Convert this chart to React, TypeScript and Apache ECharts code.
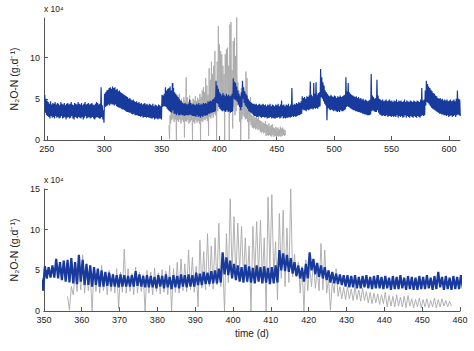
import React, { useEffect, useRef } from "react";
import * as echarts from "echarts";

// values in units of 1e4 g/d
const blueStartDay = 248;
// daily upper values of the blue (model) series, days 248..609
const blueHi = [
  5.5, 5.0, 4.8, 4.6, 4.4, 4.7, 4.3, 4.5, 4.4, 4.6,
  4.3, 4.5, 4.4, 4.2, 4.6, 4.4, 4.3, 4.5, 4.2, 4.4,
  4.5, 4.3, 4.4, 4.6, 4.3, 4.2, 4.5, 4.4, 4.3, 4.6,
  4.4, 4.3, 4.5, 4.2, 4.4, 4.6, 4.3, 4.4, 4.5, 4.3,
  4.4, 4.5, 4.3, 4.2, 4.4, 4.6, 4.5, 4.3, 4.4, 6.4,
  4.2, 3.6, 5.6, 5.8, 6.0, 6.1, 6.3, 6.4, 6.2, 6.5,
  6.3, 6.4, 6.1, 6.2, 5.9, 6.0, 5.8, 5.7, 5.6, 5.5,
  5.4, 5.3, 5.2, 5.0, 5.1, 4.9, 4.8, 4.9, 4.7, 4.6,
  4.7, 4.5, 4.6, 4.4, 4.5, 4.3, 4.4, 4.5, 4.3, 4.4,
  4.2, 4.4, 4.3, 4.2, 4.4, 4.1, 4.3, 4.2, 4.1, 4.3,
  4.2, 4.1, 5.5, 5.4, 5.6, 6.4, 6.0, 6.2, 6.3, 6.5,
  6.0, 6.9, 6.3, 5.8, 5.6, 5.4, 5.2, 5.0, 4.8, 4.7,
  4.5, 4.4, 4.5, 4.4, 4.3, 4.4, 4.9, 4.5, 4.3, 4.4,
  4.3, 4.2, 4.4, 4.3, 4.5, 4.2, 4.4, 4.3, 4.5, 4.4,
  4.5, 4.4, 4.7, 4.6, 4.8, 4.7, 4.9, 5.0, 5.2, 7.2,
  6.6, 6.2, 5.8, 5.6, 5.4, 5.7, 5.5, 5.3, 5.6, 5.4,
  5.5, 5.3, 5.4, 5.6, 7.5, 7.1, 6.9, 6.5, 6.0, 5.6,
  5.3, 5.8, 7.2, 6.4, 5.9, 5.6, 5.4, 5.0, 4.8, 4.6,
  4.5, 4.4, 4.4, 4.3, 4.4, 4.2, 4.3, 4.4, 4.2, 4.3,
  4.4, 4.2, 4.3, 4.1, 4.3, 4.2, 4.4, 4.1, 4.3, 4.2,
  4.1, 4.3, 4.2, 4.4, 4.1, 4.3, 4.8, 4.2, 4.3, 4.1,
  4.3, 4.2, 4.4, 4.1, 4.3, 6.3, 4.2, 4.4, 4.3, 4.5,
  4.4, 4.6, 4.5, 4.7, 5.3, 5.1, 5.2, 5.0, 5.3, 5.2,
  5.4, 7.1, 5.5, 5.3, 6.9, 5.6, 7.0, 5.5, 5.7, 5.8,
  8.6, 7.6, 7.0, 6.6, 6.0, 5.8, 5.6, 5.4, 5.3, 5.5,
  5.3, 5.2, 5.4, 5.3, 5.1, 5.3, 5.2, 5.4, 5.2, 5.3,
  5.4, 5.5, 7.6, 5.9, 6.9, 5.8, 5.6, 5.5, 5.4, 5.3,
  5.2, 5.3, 5.1, 5.2, 5.0, 5.1, 4.9, 5.0, 4.8, 4.9,
  4.8, 4.7, 4.8, 4.9, 8.0, 5.4, 5.2, 5.0, 5.1, 7.3,
  5.4, 5.0, 4.9, 4.8, 4.9, 4.7, 4.8, 4.9, 4.7, 4.8,
  4.9, 4.7, 4.8, 4.6, 4.8, 4.7, 4.9, 4.6, 4.8, 4.7,
  4.8, 4.6, 4.7, 4.9, 4.6, 4.8, 4.7, 4.6, 4.8, 4.7,
  4.6, 4.8, 4.7, 4.6, 4.8, 4.7, 4.6, 4.9, 6.3, 4.8,
  4.9, 6.0, 7.2, 6.8, 6.5, 6.3, 6.1, 5.9, 5.7, 5.6,
  5.4, 5.3, 5.1, 5.0, 5.1, 4.9, 5.0, 4.8, 4.9, 4.8,
  4.9, 4.7, 4.8, 4.9, 4.7, 4.8, 4.9, 4.7, 5.0, 6.0,
  5.0, 4.9,
];
// daily lower values of the blue series, days 248..609
const blueLo = [
  3.3, 3.0, 2.9, 2.8, 2.6, 2.9, 2.7, 2.8, 2.6, 2.9,
  2.7, 2.8, 2.6, 2.7, 2.9, 2.6, 2.7, 2.8, 2.5, 2.7,
  2.8, 2.6, 2.7, 2.9, 2.6, 2.5, 2.8, 2.7, 2.6, 2.8,
  2.7, 2.6, 2.8, 2.5, 2.7, 2.9, 2.6, 2.7, 2.8, 2.6,
  2.7, 2.8, 2.6, 2.5, 2.7, 2.8, 2.7, 2.6, 2.6, 2.8,
  2.5, 2.1, 4.0, 4.1, 4.2, 4.3, 4.2, 4.4, 4.3, 4.3,
  4.2, 4.3, 4.1, 4.0, 3.9, 3.9, 3.8, 3.7, 3.7, 3.6,
  3.5, 3.4, 3.4, 3.3, 3.3, 3.2, 3.1, 3.2, 3.0, 3.0,
  3.0, 2.9, 2.9, 2.8, 2.9, 2.7, 2.8, 2.8, 2.7, 2.8,
  2.7, 2.7, 2.6, 2.6, 2.7, 2.5, 2.6, 2.6, 2.5, 2.6,
  2.6, 2.5, 4.0, 4.1, 4.1, 4.0, 3.8, 3.6, 3.5, 3.4,
  3.3, 3.6, 3.2, 3.2, 3.0, 3.2, 3.0, 3.0, 3.1, 3.0,
  3.0, 2.9, 3.0, 3.0, 3.0, 3.0, 3.1, 3.0, 2.9, 2.9,
  2.9, 2.8, 3.0, 2.8, 2.9, 2.7, 2.9, 2.8, 3.0, 2.9,
  3.0, 3.0, 3.2, 3.2, 3.3, 3.3, 3.4, 3.4, 3.5, 4.5,
  4.4, 4.0, 3.8, 3.6, 3.5, 3.6, 3.5, 3.4, 3.6, 3.4,
  3.5, 3.3, 3.4, 3.5, 5.0, 4.9, 4.8, 4.6, 4.3, 4.0,
  3.6, 4.0, 5.0, 4.5, 4.2, 4.0, 3.8, 3.5, 3.4, 3.3,
  3.2, 3.0, 2.9, 2.9, 2.8, 2.8, 2.9, 2.8, 2.7, 2.8,
  2.8, 2.7, 2.8, 2.6, 2.7, 2.7, 2.8, 2.6, 2.7, 2.6,
  2.6, 2.7, 2.7, 2.8, 2.6, 2.7, 2.9, 2.6, 2.7, 2.6,
  2.7, 2.7, 2.8, 2.7, 2.8, 2.9, 2.8, 2.9, 2.8, 2.9,
  3.0, 3.0, 3.1, 3.2, 3.7, 3.6, 3.6, 3.5, 3.7, 3.6,
  3.7, 3.8, 3.8, 3.7, 3.9, 3.8, 3.9, 3.8, 4.0, 4.1,
  5.2, 5.0, 4.7, 4.4, 4.2, 2.4, 3.9, 3.7, 3.6, 3.7,
  3.6, 3.5, 3.6, 3.5, 3.4, 3.5, 3.4, 3.6, 3.5, 3.5,
  3.6, 3.7, 4.0, 4.1, 4.0, 3.9, 3.8, 3.7, 3.6, 3.6,
  3.5, 3.5, 3.4, 3.4, 3.3, 3.3, 3.2, 3.2, 3.1, 3.1,
  3.0, 3.0, 3.0, 3.1, 3.5, 3.6, 3.5, 3.4, 3.4, 3.6,
  3.3, 3.1, 3.0, 2.9, 3.0, 2.9, 2.9, 3.0, 2.8, 2.9,
  2.9, 2.8, 2.9, 2.8, 2.9, 2.8, 3.0, 2.7, 2.9, 2.8,
  2.9, 2.7, 2.8, 3.0, 2.7, 2.9, 2.8, 2.7, 2.9, 2.8,
  2.7, 2.9, 2.8, 2.7, 2.9, 2.8, 2.7, 2.9, 3.0, 2.9,
  3.0, 4.2, 4.6, 4.5, 4.3, 4.1, 3.9, 3.8, 3.7, 3.6,
  3.5, 3.4, 3.3, 3.2, 3.2, 3.1, 3.1, 3.0, 3.0, 2.9,
  3.0, 2.8, 2.9, 3.0, 2.8, 2.9, 3.0, 2.8, 3.0, 3.1,
  3.0, 2.9,
];

const grayStartDay = 356;
// daily peak values of the grey (measured) series, days 356..457
const grayHi = [
  1.8, 3.0, 4.5, 5.2, 6.9, 5.0, 4.6, 5.4, 5.0, 5.6,
  4.8, 5.0, 4.6, 5.2, 4.8, 7.6, 5.2, 4.6, 5.4, 4.8,
  4.5, 5.0, 4.8, 5.3, 4.7, 5.1, 4.9, 5.6, 5.2, 6.0,
  6.4, 5.8, 7.5, 6.6, 5.5, 8.7, 7.3, 9.5, 8.0, 9.0,
  10.8, 6.0, 9.5, 13.8, 11.6, 10.8, 10.4, 9.0, 8.0, 10.4,
  11.0, 11.2, 9.0, 14.0, 14.3, 8.5, 12.0, 12.4, 10.2, 15.0,
  7.0, 6.0, 5.5, 6.3, 5.5, 6.3, 5.0, 8.3, 7.5, 4.0,
  3.6, 5.2, 3.0, 2.9, 3.0, 2.7, 2.9, 2.6, 2.8, 2.4,
  2.3, 2.2, 2.1, 2.0, 2.3, 1.9, 1.8, 2.0, 1.7, 1.8,
  1.9, 1.5, 1.4, 1.6, 1.4, 1.5, 1.3, 1.6, 1.4, 1.5,
  1.3, 1.2,
];
// daily trough values of the grey series, days 356..457
const grayLo = [
  0.1, 2.0, 2.4, 2.6, 2.2, 2.5, 0.0, 2.4, 2.2, 2.5,
  2.0, 2.4, 2.2, 0.3, 2.3, 2.2, 2.4, 2.0, 2.2, 2.4,
  0.0, 2.2, 2.0, 2.4, 2.1, 2.3, 2.0, 0.0, 2.3, 2.2,
  2.5, 2.4, 2.6, 2.3, 0.5, 2.8, 2.6, 3.0, 2.7, 3.2,
  3.0, 0.0, 3.5, 4.5, 3.8, 5.0, 4.0, 3.5, 0.0, 4.5,
  4.2, 3.8, 0.0, 5.0, 4.5, 1.4, 4.0, 3.0, 3.5, 4.2,
  4.2, 2.2, 0.0, 2.5, 3.0, 2.8, 2.5, 2.6, 2.2, 0.1,
  2.2, 1.8, 1.5, 1.4, 1.5, 1.3, 1.4, 1.2, 1.3, 1.0,
  0.9, 1.0, 0.8, 0.9, 0.5, 0.6, 0.5, 0.6, 0.5, 0.4,
  0.6, 0.4, 0.5, 0.4, 0.5, 0.4, 0.5, 0.4, 0.5, 0.6,
  0.5, 0.6,
];

const topXTicks = [250, 300, 350, 400, 450, 500, 550, 600];
const topYTicks = [0, 5, 10];
const bottomXTicks = [350, 360, 370, 380, 390, 400, 410, 420, 430, 440, 450, 460];
const bottomYTicks = [0, 5, 10, 15];

function dailyPairs(start: number, hi: number[], lo: number[]) {
  const out: number[][] = [];
  for (let i = 0; i < hi.length; i++) {
    out.push([start + i + 0.25, hi[i]]);
    out.push([start + i + 0.75, lo[i]]);
  }
  return out;
}

const FONT = "'Liberation Sans', Arial, sans-serif";
const BLUE = "#183a9c";
const GRAY = "#a9a9a9";
const AXIS = "#555555";
const TEXT = "#222222";

export default function App() {
  const ref = useRef<HTMLDivElement>(null);
  useEffect(() => {
    if (!ref.current) return;
    const chart = echarts.init(ref.current, undefined, { renderer: "svg" });
    const blueData = dailyPairs(blueStartDay, blueHi, blueLo);
    const grayData = dailyPairs(grayStartDay, grayHi, grayLo);

    const axisCommon = {
      axisLine: { show: true, onZero: false, lineStyle: { color: AXIS, width: 1 } },
      axisTick: { show: true, inside: true, length: 4, lineStyle: { color: AXIS } },
      splitLine: { show: false },
    };
    const labelCommon = { color: TEXT, fontSize: 9, fontFamily: FONT };
    const yName = "N\u2082O-N (g.d\u207B\u00B9)";

    chart.setOption({
      animation: false,
      backgroundColor: "#ffffff",
      grid: [
        { left: 43, width: 417, top: 18, height: 122 },
        { left: 43, width: 417, top: 189, height: 122 },
      ],
      xAxis: [
        {
          type: "value", gridIndex: 0, min: 247.5, max: 609.5,
          ...axisCommon,
          axisTick: { ...axisCommon.axisTick, customValues: topXTicks },
          axisLabel: { ...labelCommon, margin: 4, customValues: topXTicks },
        },
        {
          type: "value", gridIndex: 1, min: 350, max: 460, interval: 10,
          ...axisCommon,
          axisTick: { ...axisCommon.axisTick, customValues: bottomXTicks },
          axisLabel: { ...labelCommon, margin: 4, customValues: bottomXTicks },
          name: "time (d)", nameLocation: "middle", nameGap: 17,
          nameTextStyle: { color: TEXT, fontSize: 10, fontFamily: FONT },
        },
      ],
      yAxis: [
        {
          type: "value", gridIndex: 0, min: 0, max: 14.8,
          ...axisCommon,
          axisTick: { ...axisCommon.axisTick, customValues: topYTicks },
          axisLabel: { ...labelCommon, margin: 4, customValues: topYTicks },
          name: yName, nameLocation: "middle", nameRotate: 90, nameGap: 22,
          nameTextStyle: { color: TEXT, fontSize: 10.5, fontFamily: FONT },
        },
        {
          type: "value", gridIndex: 1, min: 0, max: 15, interval: 5,
          ...axisCommon,
          axisTick: { ...axisCommon.axisTick, customValues: bottomYTicks },
          axisLabel: { ...labelCommon, margin: 4, customValues: bottomYTicks },
          name: yName, nameLocation: "middle", nameRotate: 90, nameGap: 22,
          nameTextStyle: { color: TEXT, fontSize: 10.5, fontFamily: FONT },
        },
      ],
      graphic: [
        { type: "text", left: 44, top: 4, style: { text: "x 10\u2074", fontSize: 8.5, fontFamily: FONT, fill: TEXT } },
        { type: "text", left: 44, top: 175, style: { text: "x 10\u2074", fontSize: 8.5, fontFamily: FONT, fill: TEXT } },
      ],
      series: [
        { type: "line", xAxisIndex: 0, yAxisIndex: 0, data: grayData, showSymbol: false, symbol: "none",
          lineStyle: { color: GRAY, width: 0.9 }, silent: true, z: 1 },
        { type: "line", xAxisIndex: 0, yAxisIndex: 0, data: blueData, showSymbol: false, symbol: "none",
          lineStyle: { color: BLUE, width: 1.2 }, silent: true, z: 2 },
        { type: "line", xAxisIndex: 1, yAxisIndex: 1, data: grayData, showSymbol: false, symbol: "none",
          lineStyle: { color: GRAY, width: 0.9 }, silent: true, z: 1 },
        { type: "line", xAxisIndex: 1, yAxisIndex: 1, data: blueData, showSymbol: false, symbol: "none",
          lineStyle: { color: BLUE, width: 2.2 }, silent: true, z: 2 },
      ],
    });
    return () => chart.dispose();
  }, []);
  return <div ref={ref} style={{ position: "fixed", left: 0, top: 0, width: 474, height: 351 }} />;
}
